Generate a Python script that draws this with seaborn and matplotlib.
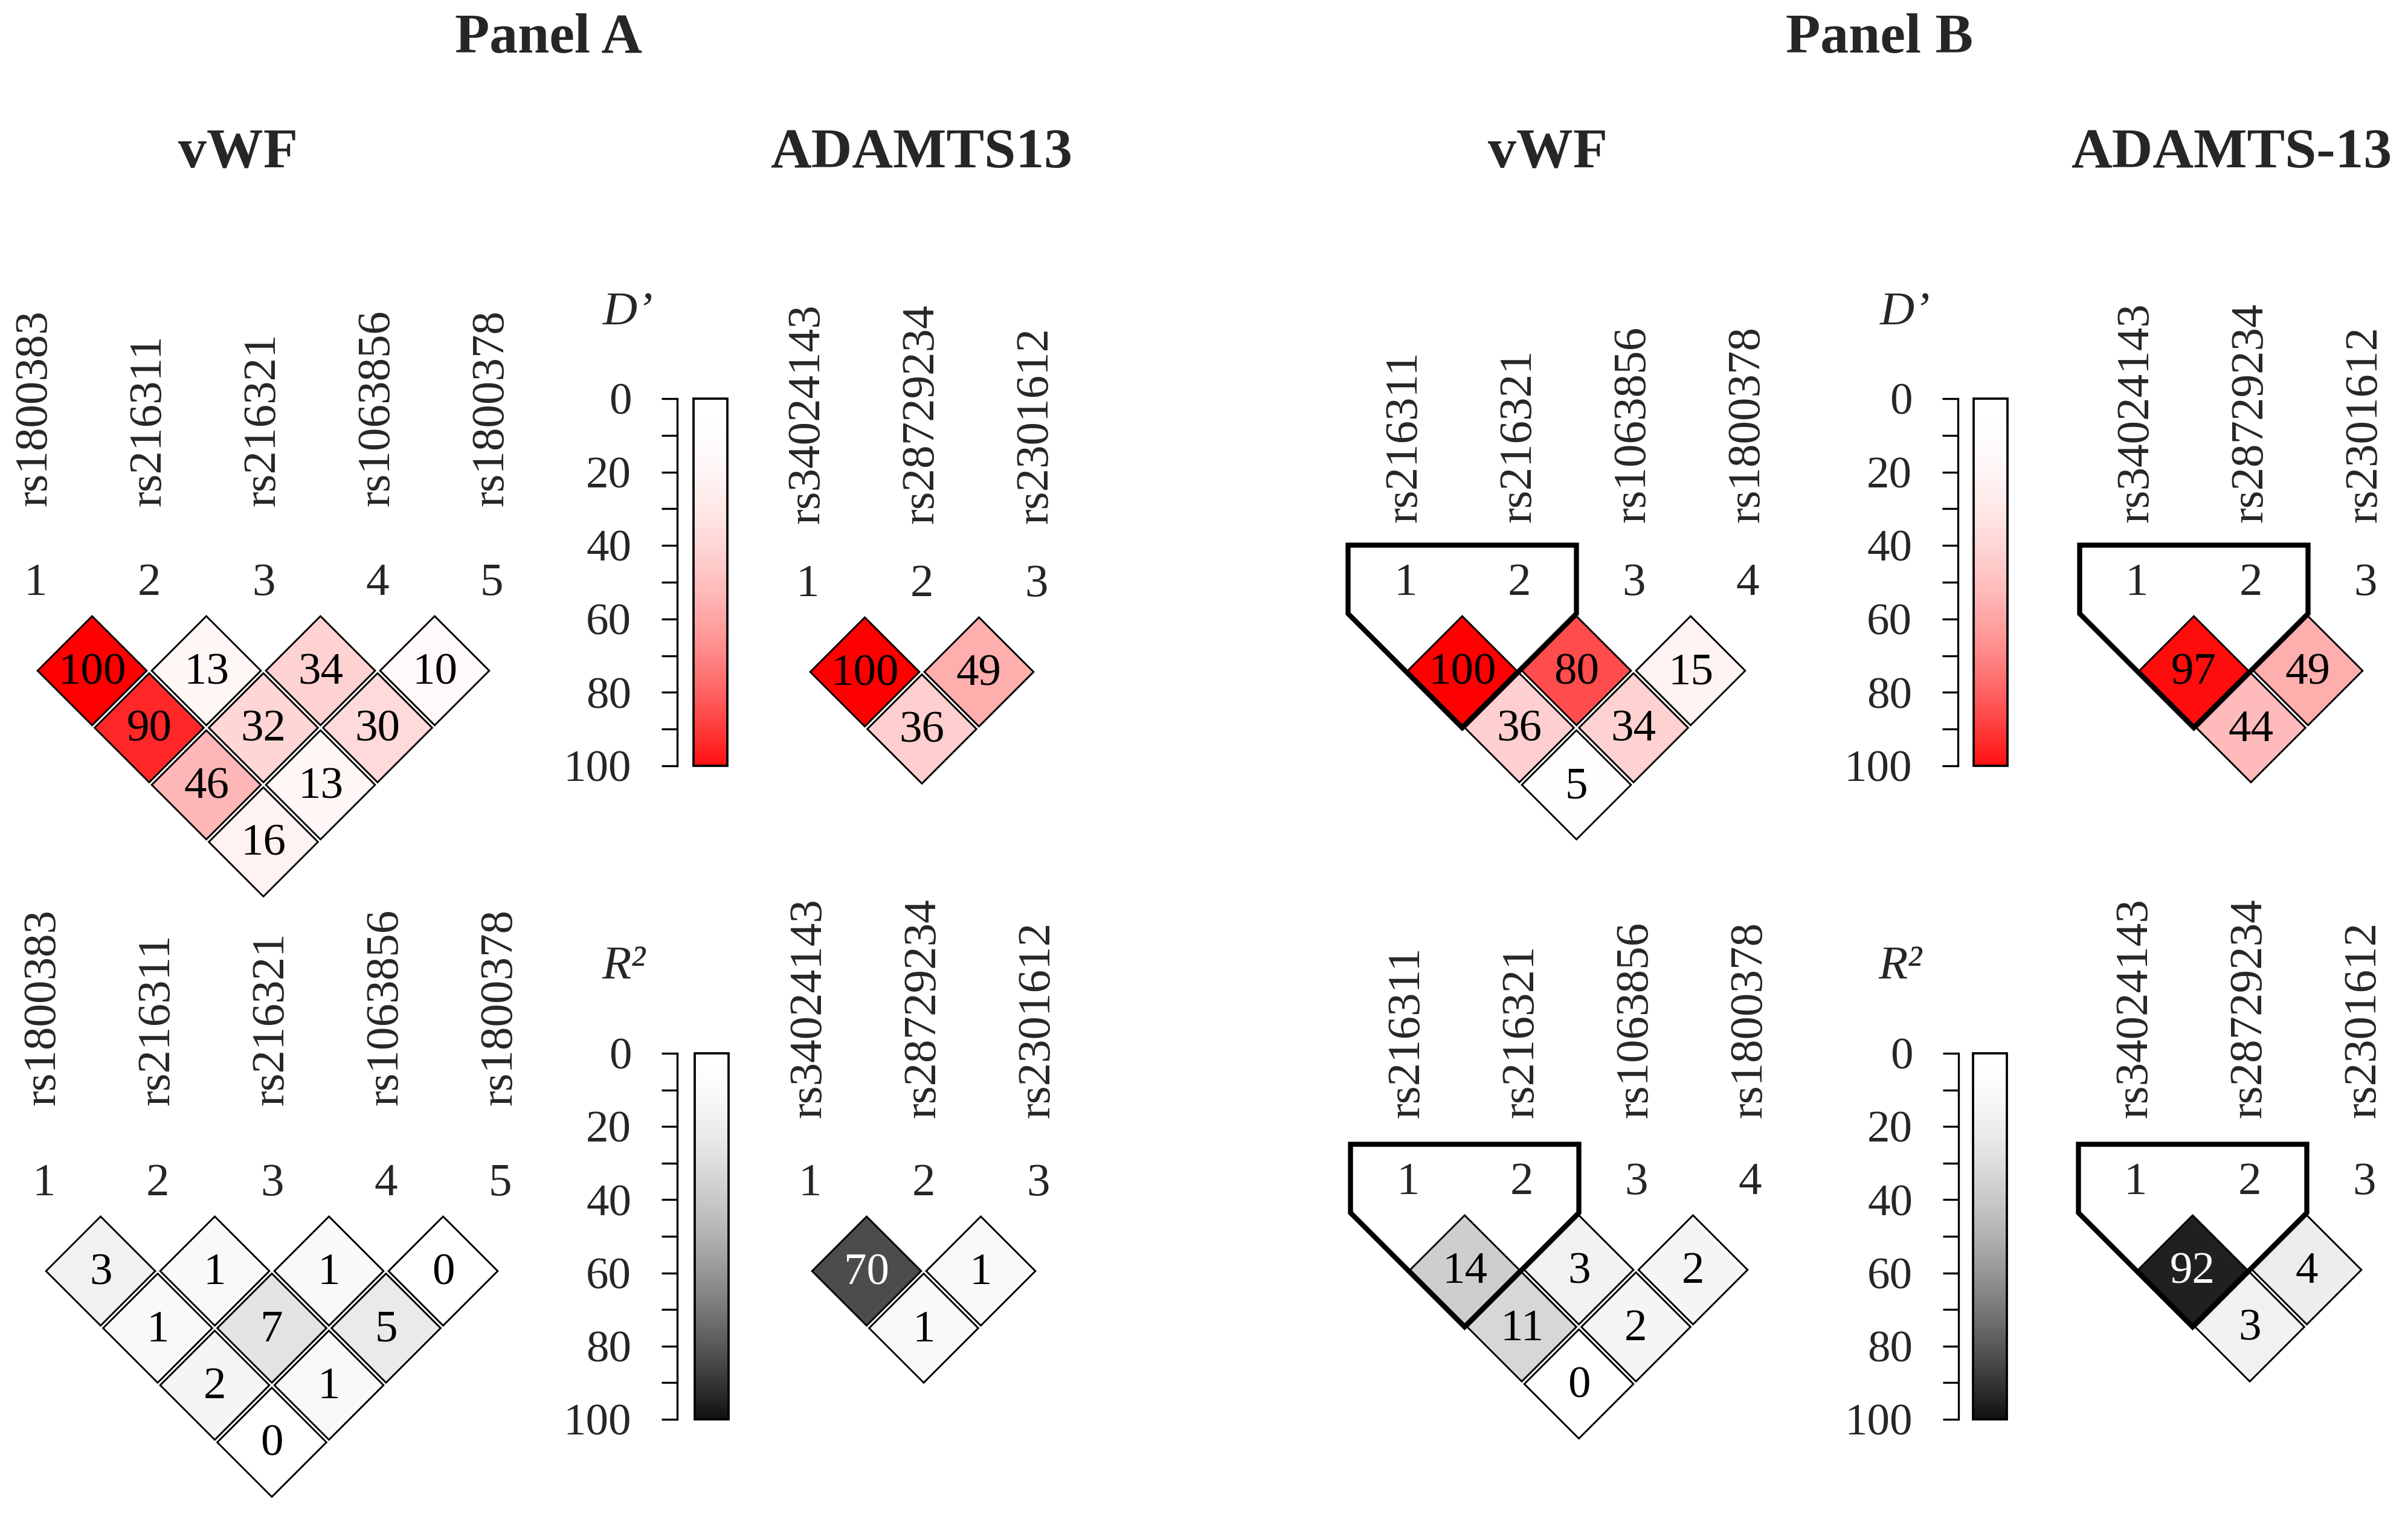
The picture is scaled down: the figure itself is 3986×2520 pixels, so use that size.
import numpy as np
import matplotlib
matplotlib.use("Agg")
import matplotlib.pyplot as plt
import seaborn as sns
from matplotlib.colors import LinearSegmentedColormap, PowerNorm
from matplotlib.patches import Polygon, Rectangle

# SNP names
snps_vwf_a = ["rs1800383", "rs216311", "rs216321", "rs1063856", "rs1800378"]
snps_vwf_b = ["rs216311", "rs216321", "rs1063856", "rs1800378"]
snps_adamts = ["rs34024143", "rs28729234", "rs2301612"]

# LD values, one list per marker distance (adjacent pairs first)
dprime_vwf_a = [[100, 13, 34, 10], [90, 32, 30], [46, 13], [16]]
r2_vwf_a = [[3, 1, 1, 0], [1, 7, 5], [2, 1], [0]]
dprime_adamts_a = [[100, 49], [36]]
r2_adamts_a = [[70, 1], [1]]

dprime_vwf_b = [[100, 80, 15], [36, 34], [5]]
r2_vwf_b = [[14, 3, 2], [11, 2], [0]]
dprime_adamts_b = [[97, 49], [44]]
r2_adamts_b = [[92, 4], [3]]

# haplotype blocks (first, last marker) in panel B
block_vwf_b = (0, 1)
block_adamts_b = (0, 1)

scale_ticks = [0, 20, 40, 60, 80, 100]

sns.set_theme(style="white")
plt.rcParams["font.family"] = ["Liberation Serif", "DejaVu Serif"]

W, H, DPI = 3986, 2520, 300
U = 189  # pixels per marker

cmap_d = LinearSegmentedColormap.from_list("dprime", ["#ffffff", "#ff0000"])
cmap_r = LinearSegmentedColormap.from_list("r2", ["#ffffff", "#111111"])
# cell shading
norm_d = PowerNorm(1.6, vmin=0, vmax=100)
norm_r = PowerNorm(0.8, vmin=0, vmax=100)
# legend bar shading
bar_cmap_d = LinearSegmentedColormap.from_list("dbar", ["#ffffff", "#ff1010"])
bar_norm_d = PowerNorm(1.9, vmin=0, vmax=100)
bar_norm_r = PowerNorm(1.6, vmin=0, vmax=100)

fig = plt.figure(figsize=(W / DPI, H / DPI), dpi=DPI)


def ld_panel(x0, ytop, snps, rows, cmap, norm, label_gap, block=None):
    n = len(snps)
    left, right = -1.0, n + 0.2
    top, bottom = -4.5, n / 2 + 0.8
    ax = fig.add_axes([(x0 + left * U) / W, 1 - (ytop + bottom * U) / H,
                       (right - left) * U / W, (bottom - top) * U / H])
    ax.set_xlim(left, right)
    ax.set_ylim(bottom, top)
    ax.axis("off")
    r = 0.478
    for d, row in enumerate(rows, start=1):
        for i, v in enumerate(row):
            cx, cy = i + d / 2, d / 2
            ax.add_patch(Polygon([(cx - r, cy), (cx, cy - r), (cx + r, cy), (cx, cy + r)],
                                 closed=True, fc=cmap(norm(v)), ec="black", lw=0.7))
            tc = "white" if (cmap is cmap_r and norm(v) > 0.6) else "black"
            ax.text(cx, cy + 0.02, str(v), ha="center", va="center", fontsize=18, color=tc)
    for k, name in enumerate(snps):
        ax.text(k, -label_gap, name, rotation=90, ha="center", va="bottom", fontsize=18.5)
        ax.text(k, -0.26, str(k + 1), ha="center", va="center", fontsize=18.5)
    if block is not None:
        s, e = block
        pts = [(s - 0.5, 0), (s - 0.5, -0.6), (e + 0.5, -0.6), (e + 0.5, 0),
               ((s + e) / 2, (e - s) / 2 + 0.5)]
        ax.add_patch(Polygon(pts, closed=True, fill=False, ec="black", lw=2.0,
                             joinstyle="miter"))
    return ax


def scale_bar(x_axis, x_bar, y0, y1, cmap, norm, label, lx, ly):
    tax = fig.add_axes([x_axis / W, 1 - y1 / H, 0.0005, (y1 - y0) / H])
    tax.patch.set_alpha(0)
    tax.set_ylim(100, 0)
    tax.set_yticks(scale_ticks)
    tax.set_yticks([10, 30, 50, 70, 90], minor=True)
    tax.set_xticks([])
    tax.tick_params(axis="y", which="both", left=True, direction="out", length=6.2,
                    width=0.8, color="black", labelsize=18, pad=12)
    for s in ["top", "right", "bottom"]:
        tax.spines[s].set_visible(False)
    tax.spines["left"].set_color("black")
    tax.spines["left"].set_linewidth(0.8)

    cax = fig.add_axes([x_bar / W, 1 - y1 / H, 56 / W, (y1 - y0) / H])
    grad = np.linspace(0, 100, 256)[:, None]
    sns.heatmap(grad, ax=cax, cmap=cmap, norm=norm, cbar=False,
                xticklabels=False, yticklabels=False)
    cax.add_patch(Rectangle((0, 0), 1, 1, transform=cax.transAxes, fill=False,
                            ec="black", lw=0.9, clip_on=False))
    fig.text(lx / W, 1 - ly / H, label, ha="center", va="center",
             fontsize=19, style="italic")


# Panel A
ld_panel(58, 1016, snps_vwf_a, dprime_vwf_a, cmap_d, norm_d, 0.94)
ld_panel(1337, 1018, snps_adamts, dprime_adamts_a, cmap_d, norm_d, 0.8)
ld_panel(72, 2010, snps_vwf_a, r2_vwf_a, cmap_r, norm_r, 0.95)
ld_panel(1340, 2010, snps_adamts, r2_adamts_a, cmap_r, norm_r, 0.84)
scale_bar(1121, 1148, 660, 1268, bar_cmap_d, bar_norm_d, "D\u2019", 1040, 518)
scale_bar(1121, 1150, 1744, 2350, cmap_r, bar_norm_r, "R\u00b2", 1032, 1601)

# Panel B
ld_panel(2326, 1016, snps_vwf_b, dprime_vwf_b, cmap_d, norm_d, 0.8, block_vwf_b)
ld_panel(3537, 1016, snps_adamts, dprime_adamts_b, cmap_d, norm_d, 0.8, block_adamts_b)
ld_panel(2330, 2008, snps_vwf_b, r2_vwf_b, cmap_r, norm_r, 0.83, block_vwf_b)
ld_panel(3535, 2008, snps_adamts, r2_adamts_b, cmap_r, norm_r, 0.83, block_adamts_b)
scale_bar(3241, 3267, 660, 1268, bar_cmap_d, bar_norm_d, "D\u2019", 3154, 518)
scale_bar(3242, 3266, 1744, 2350, cmap_r, bar_norm_r, "R\u00b2", 3145, 1601)

# titles
title_kw = dict(ha="center", va="center", fontsize=22.5, fontweight="bold")
fig.text(908 / W, 1 - 64 / H, "Panel A", **title_kw)
fig.text(3111 / W, 1 - 64 / H, "Panel B", **title_kw)
fig.text(394 / W, 1 - 254 / H, "vWF", **title_kw)
fig.text(1525 / W, 1 - 254 / H, "ADAMTS13", **title_kw)
fig.text(2562 / W, 1 - 254 / H, "vWF", **title_kw)
fig.text(3694 / W, 1 - 254 / H, "ADAMTS-13", **title_kw)

fig.savefig("out.png", dpi=DPI)
